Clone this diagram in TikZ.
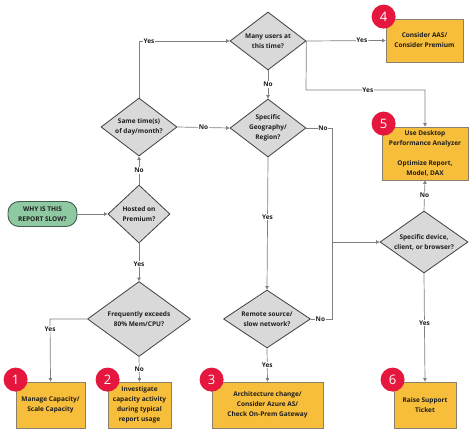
\documentclass[tikz,border=0pt]{standalone}
\usepackage{fontspec}
\setmainfont{Open Sans}
\usetikzlibrary{shapes.geometric,arrows.meta}
\definecolor{boxfill}{HTML}{F7BE3C}
\definecolor{boxborder}{HTML}{8A8070}
\definecolor{diafill}{HTML}{D9D9D9}
\definecolor{diaborder}{HTML}{404040}
\definecolor{startfill}{HTML}{8EC9A2}
\definecolor{startborder}{HTML}{3F5E4C}
\definecolor{badgered}{HTML}{E5173F}
\definecolor{linecol}{HTML}{808080}
\definecolor{textcol}{HTML}{1E1E1E}
\begin{document}
\begin{tikzpicture}[x=1pt,y=-1pt,
  txtfont/.style={font=\fontsize{6.5}{10}\selectfont\bfseries},
  dia/.style={diamond, draw=diaborder, fill=diafill, line width=0.8pt, inner sep=0pt},
  dtext/.style={txtfont, align=center, text=textcol},
  act/.style={rectangle, draw=boxborder, fill=boxfill, line width=0.8pt, inner sep=0pt, align=center, txtfont, text=textcol},
  startbox/.style={rectangle, rounded corners=11pt, draw=startborder, fill=startfill, line width=0.9pt, inner sep=0pt, align=center, txtfont, text=textcol},
  conn/.style={draw=linecol, line width=0.7pt, -{Triangle[length=3.5pt,width=3.5pt]}},
  plain/.style={draw=linecol, line width=0.7pt},
  lbl/.style={fill=white, inner sep=0.8pt, txtfont, text=textcol},
  badge/.style={circle, fill=badgered, minimum size=24pt, inner sep=0pt, text=white, font=\fontsize{13}{13}\selectfont}
]
\useasboundingbox (0,0) rectangle (474,436);

% start
\node[startbox, minimum width=69pt, minimum height=25pt] (start) at (42.5,214) {WHY IS THIS\\REPORT SLOW?};

% diamonds
\node[dia, minimum width=62pt, minimum height=58pt] (hosted) at (139,214) {};
\node[dtext] at (hosted) {Hosted on\\Premium?};
\node[dia, minimum width=76pt, minimum height=58pt] (same) at (139,127) {};
\node[dtext] at (same) {Same time(s)\\of day/month?};
\node[dia, minimum width=76pt, minimum height=58pt] (many) at (268,41) {};
\node[dtext] at (many) {Many users at\\this time?};
\node[dia, minimum width=76pt, minimum height=58pt] (geo) at (268,128) {};
\node[dtext] at (geo) {Specific\\Geography/\\Region?};
\node[dia, minimum width=87pt, minimum height=58pt] (remote) at (267,319) {};
\node[dtext] at (remote) {Remote source/\\slow network?};
\node[dia, minimum width=88pt, minimum height=62pt] (dev) at (424,242) {};
\node[dtext] at (dev) {Specific device,\\client, or browser?};
\node[dia, minimum width=103pt, minimum height=75pt] (freq) at (139,319) {};
\node[dtext] at (freq) {Frequently exceeds\\80\% Mem/CPU?};

% action boxes
\node[act, minimum width=77pt, minimum height=43pt] (aas) at (424.5,40.5) {Consider AAS/\\Consider Premium};
\node[act, minimum width=86pt, minimum height=53pt] (perf) at (425,153.5) {Use Desktop\\Performance Analyzer\\[10pt]Optimize Report,\\Model, DAX};
\node[act, minimum width=69pt, minimum height=46pt] (cap) at (50.5,405) {Manage Capacity/\\Scale Capacity};
\node[act, minimum width=63pt, minimum height=46pt] (inv) at (139.5,405) {Investigate\\capacity activity\\during typical\\report usage};
\node[act, minimum width=111pt, minimum height=46pt] (arch) at (267.5,405) {Architecture change/\\Consider Azure AS/\\Check On-Prem Gateway};
\node[act, minimum width=62pt, minimum height=46pt] (ticket) at (425,405) {Raise Support\\Ticket};

% badges
\node[badge] (b1) at ([yshift=2pt]cap.north west) {1};
\node[badge] (b2) at ([yshift=2pt]inv.north west) {2};
\node[badge] (b3) at ([yshift=2pt]arch.north west) {3};
\node[badge] (b4) at ([yshift=2pt,xshift=-2pt]aas.north west) {4};
\node[badge] (b5) at ([yshift=3pt,xshift=2pt]perf.north west) {5};
\node[badge] (b6) at ([yshift=2pt,xshift=-1pt]ticket.north west) {6};

% junction coordinates
\coordinate (jgeo) at (332,128);
\coordinate (jrem) at (332,319);
\coordinate (jdev) at (332,242);
\coordinate (jmany) at (306,90);
\coordinate (jfreq) at (50,319);
\coordinate (jsame) at (139,41);

% connectors
\draw[conn] (start.east) -- (hosted.west);
\draw[conn] (hosted.north) -- node[lbl]{No} (same.south);
\draw[conn] (same.north) -- (jsame) -- node[lbl,pos=0.11]{Yes} (many.west);
\draw[conn] (same.east) -- node[lbl]{No} (geo.west);
\draw[conn] (many.south) -- node[lbl]{No} (geo.north);
\draw[conn] (many.east) -- node[lbl,pos=0.7]{Yes} (aas.west);
\draw[conn] (many.east) -- (jmany) -| node[lbl,pos=0.26]{Yes} (perf.north);
\draw[plain] (geo.east) -- node[lbl,pos=0.65]{No} (jgeo) -- (jdev);
\draw[plain] (remote.east) -- node[lbl,pos=0.45]{No} (jrem) -- (jdev);
\draw[conn] (jdev) -- (dev.west);
\draw[conn] (geo.south) -- node[lbl,pos=0.45]{Yes} (remote.north);
\draw[conn] (remote.south) -- node[lbl]{Yes} (arch.north);
\draw[conn] (dev.north) -- node[lbl]{No} (perf.south);
\draw[conn] (dev.south) -- node[lbl,pos=0.46]{Yes} (ticket.north);
\draw[conn] (hosted.south) -- node[lbl,pos=0.55]{Yes} (freq.north);
\draw[conn] (freq.west) -- (jfreq) -- node[lbl,pos=0.16]{Yes} (cap.north);
\draw[conn] (freq.south) -- node[lbl]{No} (inv.north);
\end{tikzpicture}
\end{document}
